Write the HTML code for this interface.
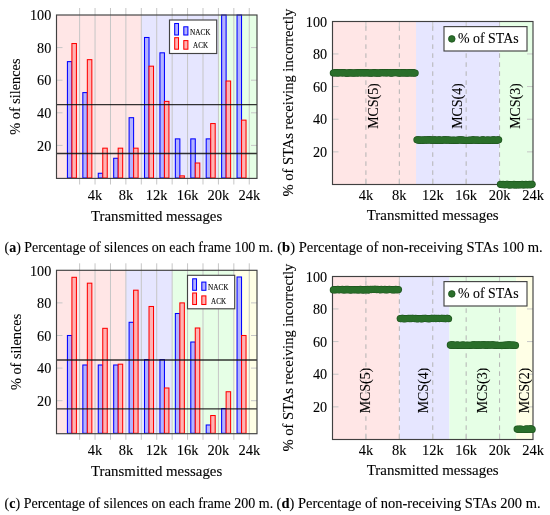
<!DOCTYPE html>
<html><head><meta charset="utf-8"><style>html,body{margin:0;padding:0;background:#fff;}svg{display:block;will-change:transform;}text{fill:#000;stroke:#000;stroke-width:0.1px;}</style></head><body>
<svg width="550" height="515" viewBox="0 0 550 515" font-family='"Liberation Serif", serif' fill="#000">
<rect width="550" height="515" fill="#fff"/>
<rect x="56.50" y="15.00" width="84.81" height="163.00" fill="#ffe6e6"/>
<rect x="141.31" y="15.00" width="77.10" height="163.00" fill="#e6e6ff"/>
<rect x="218.41" y="15.00" width="38.59" height="163.00" fill="#e6ffe6"/>
<line x1="79.63" y1="8.00" x2="79.63" y2="184.50" stroke="#c6c6c6" stroke-width="1"/>
<line x1="95.05" y1="8.00" x2="95.05" y2="184.50" stroke="#c6c6c6" stroke-width="1"/>
<line x1="110.47" y1="8.00" x2="110.47" y2="184.50" stroke="#c6c6c6" stroke-width="1"/>
<line x1="125.89" y1="8.00" x2="125.89" y2="184.50" stroke="#c6c6c6" stroke-width="1"/>
<line x1="141.31" y1="8.00" x2="141.31" y2="184.50" stroke="#c6c6c6" stroke-width="1"/>
<line x1="156.73" y1="8.00" x2="156.73" y2="184.50" stroke="#c6c6c6" stroke-width="1"/>
<line x1="172.15" y1="8.00" x2="172.15" y2="184.50" stroke="#c6c6c6" stroke-width="1"/>
<line x1="187.57" y1="8.00" x2="187.57" y2="184.50" stroke="#c6c6c6" stroke-width="1"/>
<line x1="202.99" y1="8.00" x2="202.99" y2="184.50" stroke="#c6c6c6" stroke-width="1"/>
<line x1="218.41" y1="8.00" x2="218.41" y2="184.50" stroke="#c6c6c6" stroke-width="1"/>
<line x1="233.83" y1="8.00" x2="233.83" y2="184.50" stroke="#c6c6c6" stroke-width="1"/>
<line x1="249.25" y1="8.00" x2="249.25" y2="184.50" stroke="#c6c6c6" stroke-width="1"/>
<line x1="56.50" y1="145.40" x2="62.50" y2="145.40" stroke="#c6c6c6" stroke-width="1"/>
<line x1="251.00" y1="145.40" x2="257.00" y2="145.40" stroke="#c6c6c6" stroke-width="1"/>
<line x1="56.50" y1="112.80" x2="62.50" y2="112.80" stroke="#c6c6c6" stroke-width="1"/>
<line x1="251.00" y1="112.80" x2="257.00" y2="112.80" stroke="#c6c6c6" stroke-width="1"/>
<line x1="56.50" y1="80.20" x2="62.50" y2="80.20" stroke="#c6c6c6" stroke-width="1"/>
<line x1="251.00" y1="80.20" x2="257.00" y2="80.20" stroke="#c6c6c6" stroke-width="1"/>
<line x1="56.50" y1="47.60" x2="62.50" y2="47.60" stroke="#c6c6c6" stroke-width="1"/>
<line x1="251.00" y1="47.60" x2="257.00" y2="47.60" stroke="#c6c6c6" stroke-width="1"/>
<rect x="67.42" y="61.62" width="4.50" height="116.38" fill="#b3b3ff" stroke="#0000ff" stroke-width="1.05"/>
<rect x="71.92" y="43.53" width="4.50" height="134.47" fill="#ffb3b3" stroke="#ff0000" stroke-width="1.05"/>
<rect x="82.84" y="92.59" width="4.50" height="85.41" fill="#b3b3ff" stroke="#0000ff" stroke-width="1.05"/>
<rect x="87.34" y="59.66" width="4.50" height="118.34" fill="#ffb3b3" stroke="#ff0000" stroke-width="1.05"/>
<rect x="98.26" y="173.27" width="4.50" height="4.73" fill="#b3b3ff" stroke="#0000ff" stroke-width="1.05"/>
<rect x="102.76" y="148.17" width="4.50" height="29.83" fill="#ffb3b3" stroke="#ff0000" stroke-width="1.05"/>
<rect x="113.68" y="158.28" width="4.50" height="19.72" fill="#b3b3ff" stroke="#0000ff" stroke-width="1.05"/>
<rect x="118.18" y="148.17" width="4.50" height="29.83" fill="#ffb3b3" stroke="#ff0000" stroke-width="1.05"/>
<rect x="129.10" y="117.69" width="4.50" height="60.31" fill="#b3b3ff" stroke="#0000ff" stroke-width="1.05"/>
<rect x="133.60" y="148.17" width="4.50" height="29.83" fill="#ffb3b3" stroke="#ff0000" stroke-width="1.05"/>
<rect x="144.52" y="37.49" width="4.50" height="140.51" fill="#b3b3ff" stroke="#0000ff" stroke-width="1.05"/>
<rect x="149.02" y="66.18" width="4.50" height="111.82" fill="#ffb3b3" stroke="#ff0000" stroke-width="1.05"/>
<rect x="159.94" y="52.82" width="4.50" height="125.18" fill="#b3b3ff" stroke="#0000ff" stroke-width="1.05"/>
<rect x="164.44" y="101.39" width="4.50" height="76.61" fill="#ffb3b3" stroke="#ff0000" stroke-width="1.05"/>
<rect x="175.36" y="138.88" width="4.50" height="39.12" fill="#b3b3ff" stroke="#0000ff" stroke-width="1.05"/>
<rect x="179.86" y="175.88" width="4.50" height="2.12" fill="#ffb3b3" stroke="#ff0000" stroke-width="1.05"/>
<rect x="190.78" y="138.88" width="4.50" height="39.12" fill="#b3b3ff" stroke="#0000ff" stroke-width="1.05"/>
<rect x="195.28" y="163.00" width="4.50" height="15.00" fill="#ffb3b3" stroke="#ff0000" stroke-width="1.05"/>
<rect x="206.20" y="138.88" width="4.50" height="39.12" fill="#b3b3ff" stroke="#0000ff" stroke-width="1.05"/>
<rect x="210.70" y="123.56" width="4.50" height="54.44" fill="#ffb3b3" stroke="#ff0000" stroke-width="1.05"/>
<rect x="221.62" y="15.00" width="4.50" height="163.00" fill="#b3b3ff" stroke="#0000ff" stroke-width="1.05"/>
<rect x="226.12" y="81.02" width="4.50" height="96.98" fill="#ffb3b3" stroke="#ff0000" stroke-width="1.05"/>
<rect x="237.04" y="15.00" width="4.50" height="163.00" fill="#b3b3ff" stroke="#0000ff" stroke-width="1.05"/>
<rect x="241.54" y="120.14" width="4.50" height="57.86" fill="#ffb3b3" stroke="#ff0000" stroke-width="1.05"/>
<line x1="56.50" y1="104.65" x2="257.00" y2="104.65" stroke="#111" stroke-opacity="0.85" stroke-width="1.4"/>
<line x1="56.50" y1="153.55" x2="257.00" y2="153.55" stroke="#111" stroke-opacity="0.85" stroke-width="1.4"/>
<rect x="56.50" y="15.00" width="200.50" height="163.40" fill="none" stroke="#404040" stroke-width="1.15"/>
<text x="51.30" y="150.60" font-size="14.2" text-anchor="end" >20</text>
<text x="51.30" y="118.00" font-size="14.2" text-anchor="end" >40</text>
<text x="51.30" y="85.40" font-size="14.2" text-anchor="end" >60</text>
<text x="51.30" y="52.80" font-size="14.2" text-anchor="end" >80</text>
<text x="51.30" y="20.20" font-size="14.2" text-anchor="end" >100</text>
<text x="95.05" y="199.70" font-size="14.5" text-anchor="middle" >4k</text>
<text x="125.89" y="199.70" font-size="14.5" text-anchor="middle" >8k</text>
<text x="156.73" y="199.70" font-size="14.5" text-anchor="middle" >12k</text>
<text x="187.57" y="199.70" font-size="14.5" text-anchor="middle" >16k</text>
<text x="218.41" y="199.70" font-size="14.5" text-anchor="middle" >20k</text>
<text x="249.25" y="199.70" font-size="14.5" text-anchor="middle" >24k</text>
<text x="91.00" y="220.80" font-size="15" text-anchor="start" textLength="131.20" lengthAdjust="spacingAndGlyphs" >Transmitted messages</text>
<text x="20.50" y="134.70" font-size="14.5" text-anchor="start" textLength="76.20" lengthAdjust="spacingAndGlyphs" transform="rotate(-90 20.50 134.70)" >% of silences</text>
<rect x="169.5" y="20.0" width="47.20" height="33.50" fill="#fff" stroke="#444" stroke-width="1.15"/>
<rect x="174.7" y="23.5" width="3.8" height="11.5" fill="#b3b3ff" stroke="#0000ff" stroke-width="1.05"/>
<rect x="183.8" y="26.8" width="4.1" height="8.2" fill="#b3b3ff" stroke="#0000ff" stroke-width="1.05"/>
<rect x="174.7" y="37.7" width="3.8" height="11.5" fill="#ffb3b3" stroke="#ff0000" stroke-width="1.05"/>
<rect x="183.8" y="40.6" width="4.1" height="8.6" fill="#ffb3b3" stroke="#ff0000" stroke-width="1.05"/>
<text x="190.00" y="34.60" font-size="7.4" text-anchor="start" textLength="20.40" lengthAdjust="spacingAndGlyphs" >NACK</text>
<text x="193.10" y="48.40" font-size="7.4" text-anchor="start" textLength="14.90" lengthAdjust="spacingAndGlyphs" >ACK</text>
<rect x="332.50" y="21.50" width="83.54" height="163.00" fill="#ffe6e6"/>
<rect x="416.04" y="21.50" width="83.54" height="163.00" fill="#e6e6ff"/>
<rect x="499.58" y="21.50" width="33.42" height="163.00" fill="#e6ffe6"/>
<line x1="365.92" y1="21.50" x2="365.92" y2="184.50" stroke="#b4b4b4" stroke-width="1" stroke-dasharray="4.6 4.4" stroke-dashoffset="4.2"/>
<line x1="399.33" y1="21.50" x2="399.33" y2="184.50" stroke="#b4b4b4" stroke-width="1" stroke-dasharray="4.6 4.4" stroke-dashoffset="4.2"/>
<line x1="432.75" y1="21.50" x2="432.75" y2="184.50" stroke="#b4b4b4" stroke-width="1" stroke-dasharray="4.6 4.4" stroke-dashoffset="4.2"/>
<line x1="466.16" y1="21.50" x2="466.16" y2="184.50" stroke="#b4b4b4" stroke-width="1" stroke-dasharray="4.6 4.4" stroke-dashoffset="4.2"/>
<line x1="499.58" y1="21.50" x2="499.58" y2="184.50" stroke="#b4b4b4" stroke-width="1" stroke-dasharray="4.6 4.4" stroke-dashoffset="4.2"/>
<line x1="365.92" y1="21.50" x2="365.92" y2="27.50" stroke="#c6c6c6" stroke-width="1"/>
<line x1="365.92" y1="178.50" x2="365.92" y2="184.50" stroke="#c6c6c6" stroke-width="1"/>
<line x1="399.33" y1="21.50" x2="399.33" y2="27.50" stroke="#c6c6c6" stroke-width="1"/>
<line x1="399.33" y1="178.50" x2="399.33" y2="184.50" stroke="#c6c6c6" stroke-width="1"/>
<line x1="432.75" y1="21.50" x2="432.75" y2="27.50" stroke="#c6c6c6" stroke-width="1"/>
<line x1="432.75" y1="178.50" x2="432.75" y2="184.50" stroke="#c6c6c6" stroke-width="1"/>
<line x1="466.16" y1="21.50" x2="466.16" y2="27.50" stroke="#c6c6c6" stroke-width="1"/>
<line x1="466.16" y1="178.50" x2="466.16" y2="184.50" stroke="#c6c6c6" stroke-width="1"/>
<line x1="499.58" y1="21.50" x2="499.58" y2="27.50" stroke="#c6c6c6" stroke-width="1"/>
<line x1="499.58" y1="178.50" x2="499.58" y2="184.50" stroke="#c6c6c6" stroke-width="1"/>
<line x1="332.50" y1="151.86" x2="338.50" y2="151.86" stroke="#c6c6c6" stroke-width="1"/>
<line x1="527.00" y1="151.86" x2="533.00" y2="151.86" stroke="#c6c6c6" stroke-width="1"/>
<line x1="332.50" y1="119.22" x2="338.50" y2="119.22" stroke="#c6c6c6" stroke-width="1"/>
<line x1="527.00" y1="119.22" x2="533.00" y2="119.22" stroke="#c6c6c6" stroke-width="1"/>
<line x1="332.50" y1="86.58" x2="338.50" y2="86.58" stroke="#c6c6c6" stroke-width="1"/>
<line x1="527.00" y1="86.58" x2="533.00" y2="86.58" stroke="#c6c6c6" stroke-width="1"/>
<line x1="332.50" y1="53.94" x2="338.50" y2="53.94" stroke="#c6c6c6" stroke-width="1"/>
<line x1="527.00" y1="53.94" x2="533.00" y2="53.94" stroke="#c6c6c6" stroke-width="1"/>
<text x="378.27" y="106.00" font-size="14.5" text-anchor="middle" textLength="45.50" lengthAdjust="spacingAndGlyphs" transform="rotate(-90 378.27 106.00)" >MCS(5)</text>
<text x="461.81" y="106.00" font-size="14.5" text-anchor="middle" textLength="45.50" lengthAdjust="spacingAndGlyphs" transform="rotate(-90 461.81 106.00)" >MCS(4)</text>
<text x="520.29" y="106.00" font-size="14.5" text-anchor="middle" textLength="45.50" lengthAdjust="spacingAndGlyphs" transform="rotate(-90 520.29 106.00)" >MCS(3)</text>
<rect x="332.50" y="21.50" width="200.50" height="163.00" fill="none" stroke="#404040" stroke-width="1.15"/>
<g fill="#1f561f"><circle cx="333.3" cy="73.0" r="3.55"/><circle cx="334.2" cy="72.7" r="3.55"/><circle cx="335.2" cy="73.0" r="3.55"/><circle cx="336.1" cy="72.6" r="3.55"/><circle cx="337.0" cy="72.9" r="3.55"/><circle cx="337.9" cy="72.9" r="3.55"/><circle cx="338.8" cy="73.0" r="3.55"/><circle cx="339.7" cy="72.8" r="3.55"/><circle cx="340.6" cy="72.7" r="3.55"/><circle cx="341.5" cy="72.8" r="3.55"/><circle cx="342.4" cy="73.1" r="3.55"/><circle cx="343.3" cy="72.6" r="3.55"/><circle cx="344.3" cy="72.7" r="3.55"/><circle cx="345.2" cy="73.0" r="3.55"/><circle cx="346.1" cy="73.1" r="3.55"/><circle cx="347.0" cy="73.3" r="3.55"/><circle cx="347.9" cy="73.1" r="3.55"/><circle cx="348.8" cy="72.8" r="3.55"/><circle cx="349.7" cy="72.9" r="3.55"/><circle cx="350.6" cy="73.0" r="3.55"/><circle cx="351.5" cy="72.7" r="3.55"/><circle cx="352.4" cy="73.0" r="3.55"/><circle cx="353.3" cy="73.0" r="3.55"/><circle cx="354.3" cy="73.3" r="3.55"/><circle cx="355.2" cy="72.7" r="3.55"/><circle cx="356.1" cy="72.8" r="3.55"/><circle cx="357.0" cy="73.0" r="3.55"/><circle cx="357.9" cy="73.1" r="3.55"/><circle cx="358.8" cy="72.6" r="3.55"/><circle cx="359.7" cy="72.5" r="3.55"/><circle cx="360.6" cy="73.1" r="3.55"/><circle cx="361.5" cy="72.5" r="3.55"/><circle cx="362.4" cy="72.9" r="3.55"/><circle cx="363.4" cy="72.7" r="3.55"/><circle cx="364.3" cy="72.9" r="3.55"/><circle cx="365.2" cy="72.9" r="3.55"/><circle cx="366.1" cy="72.8" r="3.55"/><circle cx="367.0" cy="72.6" r="3.55"/><circle cx="367.9" cy="73.0" r="3.55"/><circle cx="368.8" cy="73.0" r="3.55"/><circle cx="369.7" cy="72.7" r="3.55"/><circle cx="370.6" cy="73.2" r="3.55"/><circle cx="371.5" cy="73.1" r="3.55"/><circle cx="372.5" cy="72.8" r="3.55"/><circle cx="373.4" cy="73.0" r="3.55"/><circle cx="374.3" cy="72.6" r="3.55"/><circle cx="375.2" cy="73.0" r="3.55"/><circle cx="376.1" cy="72.9" r="3.55"/><circle cx="377.0" cy="73.0" r="3.55"/><circle cx="377.9" cy="73.2" r="3.55"/><circle cx="378.8" cy="72.8" r="3.55"/><circle cx="379.7" cy="73.1" r="3.55"/><circle cx="380.6" cy="73.0" r="3.55"/><circle cx="381.5" cy="72.5" r="3.55"/><circle cx="382.5" cy="72.8" r="3.55"/><circle cx="383.4" cy="72.6" r="3.55"/><circle cx="384.3" cy="72.9" r="3.55"/><circle cx="385.2" cy="72.8" r="3.55"/><circle cx="386.1" cy="72.6" r="3.55"/><circle cx="387.0" cy="73.1" r="3.55"/><circle cx="387.9" cy="72.5" r="3.55"/><circle cx="388.8" cy="72.5" r="3.55"/><circle cx="389.7" cy="72.6" r="3.55"/><circle cx="390.6" cy="73.2" r="3.55"/><circle cx="391.6" cy="72.9" r="3.55"/><circle cx="392.5" cy="72.9" r="3.55"/><circle cx="393.4" cy="72.8" r="3.55"/><circle cx="394.3" cy="72.6" r="3.55"/><circle cx="395.2" cy="72.8" r="3.55"/><circle cx="396.1" cy="72.7" r="3.55"/><circle cx="397.0" cy="72.8" r="3.55"/><circle cx="397.9" cy="72.6" r="3.55"/><circle cx="398.8" cy="73.2" r="3.55"/><circle cx="399.7" cy="73.1" r="3.55"/><circle cx="400.7" cy="72.8" r="3.55"/><circle cx="401.6" cy="72.9" r="3.55"/><circle cx="402.5" cy="72.5" r="3.55"/><circle cx="403.4" cy="73.2" r="3.55"/><circle cx="404.3" cy="72.6" r="3.55"/><circle cx="405.2" cy="72.8" r="3.55"/><circle cx="406.1" cy="73.1" r="3.55"/><circle cx="407.0" cy="73.0" r="3.55"/><circle cx="407.9" cy="73.1" r="3.55"/><circle cx="408.8" cy="72.6" r="3.55"/><circle cx="409.7" cy="73.0" r="3.55"/><circle cx="410.7" cy="72.5" r="3.55"/><circle cx="411.6" cy="73.3" r="3.55"/><circle cx="412.5" cy="72.5" r="3.55"/><circle cx="413.4" cy="72.6" r="3.55"/><circle cx="414.3" cy="73.3" r="3.55"/><circle cx="415.2" cy="73.0" r="3.55"/></g>
<g fill="#2b6f2b"><circle cx="333.3" cy="73.0" r="2.8"/><circle cx="334.2" cy="72.7" r="2.8"/><circle cx="335.2" cy="73.0" r="2.8"/><circle cx="336.1" cy="72.6" r="2.8"/><circle cx="337.0" cy="72.9" r="2.8"/><circle cx="337.9" cy="72.9" r="2.8"/><circle cx="338.8" cy="73.0" r="2.8"/><circle cx="339.7" cy="72.8" r="2.8"/><circle cx="340.6" cy="72.7" r="2.8"/><circle cx="341.5" cy="72.8" r="2.8"/><circle cx="342.4" cy="73.1" r="2.8"/><circle cx="343.3" cy="72.6" r="2.8"/><circle cx="344.3" cy="72.7" r="2.8"/><circle cx="345.2" cy="73.0" r="2.8"/><circle cx="346.1" cy="73.1" r="2.8"/><circle cx="347.0" cy="73.3" r="2.8"/><circle cx="347.9" cy="73.1" r="2.8"/><circle cx="348.8" cy="72.8" r="2.8"/><circle cx="349.7" cy="72.9" r="2.8"/><circle cx="350.6" cy="73.0" r="2.8"/><circle cx="351.5" cy="72.7" r="2.8"/><circle cx="352.4" cy="73.0" r="2.8"/><circle cx="353.3" cy="73.0" r="2.8"/><circle cx="354.3" cy="73.3" r="2.8"/><circle cx="355.2" cy="72.7" r="2.8"/><circle cx="356.1" cy="72.8" r="2.8"/><circle cx="357.0" cy="73.0" r="2.8"/><circle cx="357.9" cy="73.1" r="2.8"/><circle cx="358.8" cy="72.6" r="2.8"/><circle cx="359.7" cy="72.5" r="2.8"/><circle cx="360.6" cy="73.1" r="2.8"/><circle cx="361.5" cy="72.5" r="2.8"/><circle cx="362.4" cy="72.9" r="2.8"/><circle cx="363.4" cy="72.7" r="2.8"/><circle cx="364.3" cy="72.9" r="2.8"/><circle cx="365.2" cy="72.9" r="2.8"/><circle cx="366.1" cy="72.8" r="2.8"/><circle cx="367.0" cy="72.6" r="2.8"/><circle cx="367.9" cy="73.0" r="2.8"/><circle cx="368.8" cy="73.0" r="2.8"/><circle cx="369.7" cy="72.7" r="2.8"/><circle cx="370.6" cy="73.2" r="2.8"/><circle cx="371.5" cy="73.1" r="2.8"/><circle cx="372.5" cy="72.8" r="2.8"/><circle cx="373.4" cy="73.0" r="2.8"/><circle cx="374.3" cy="72.6" r="2.8"/><circle cx="375.2" cy="73.0" r="2.8"/><circle cx="376.1" cy="72.9" r="2.8"/><circle cx="377.0" cy="73.0" r="2.8"/><circle cx="377.9" cy="73.2" r="2.8"/><circle cx="378.8" cy="72.8" r="2.8"/><circle cx="379.7" cy="73.1" r="2.8"/><circle cx="380.6" cy="73.0" r="2.8"/><circle cx="381.5" cy="72.5" r="2.8"/><circle cx="382.5" cy="72.8" r="2.8"/><circle cx="383.4" cy="72.6" r="2.8"/><circle cx="384.3" cy="72.9" r="2.8"/><circle cx="385.2" cy="72.8" r="2.8"/><circle cx="386.1" cy="72.6" r="2.8"/><circle cx="387.0" cy="73.1" r="2.8"/><circle cx="387.9" cy="72.5" r="2.8"/><circle cx="388.8" cy="72.5" r="2.8"/><circle cx="389.7" cy="72.6" r="2.8"/><circle cx="390.6" cy="73.2" r="2.8"/><circle cx="391.6" cy="72.9" r="2.8"/><circle cx="392.5" cy="72.9" r="2.8"/><circle cx="393.4" cy="72.8" r="2.8"/><circle cx="394.3" cy="72.6" r="2.8"/><circle cx="395.2" cy="72.8" r="2.8"/><circle cx="396.1" cy="72.7" r="2.8"/><circle cx="397.0" cy="72.8" r="2.8"/><circle cx="397.9" cy="72.6" r="2.8"/><circle cx="398.8" cy="73.2" r="2.8"/><circle cx="399.7" cy="73.1" r="2.8"/><circle cx="400.7" cy="72.8" r="2.8"/><circle cx="401.6" cy="72.9" r="2.8"/><circle cx="402.5" cy="72.5" r="2.8"/><circle cx="403.4" cy="73.2" r="2.8"/><circle cx="404.3" cy="72.6" r="2.8"/><circle cx="405.2" cy="72.8" r="2.8"/><circle cx="406.1" cy="73.1" r="2.8"/><circle cx="407.0" cy="73.0" r="2.8"/><circle cx="407.9" cy="73.1" r="2.8"/><circle cx="408.8" cy="72.6" r="2.8"/><circle cx="409.7" cy="73.0" r="2.8"/><circle cx="410.7" cy="72.5" r="2.8"/><circle cx="411.6" cy="73.3" r="2.8"/><circle cx="412.5" cy="72.5" r="2.8"/><circle cx="413.4" cy="72.6" r="2.8"/><circle cx="414.3" cy="73.3" r="2.8"/><circle cx="415.2" cy="73.0" r="2.8"/></g>
<g fill="#1f561f"><circle cx="416.9" cy="139.7" r="3.55"/><circle cx="417.8" cy="139.9" r="3.55"/><circle cx="418.7" cy="140.2" r="3.55"/><circle cx="419.6" cy="139.8" r="3.55"/><circle cx="420.5" cy="140.4" r="3.55"/><circle cx="421.4" cy="140.1" r="3.55"/><circle cx="422.3" cy="140.4" r="3.55"/><circle cx="423.2" cy="140.1" r="3.55"/><circle cx="424.2" cy="139.8" r="3.55"/><circle cx="425.1" cy="140.3" r="3.55"/><circle cx="426.0" cy="139.7" r="3.55"/><circle cx="426.9" cy="140.3" r="3.55"/><circle cx="427.8" cy="139.9" r="3.55"/><circle cx="428.7" cy="139.8" r="3.55"/><circle cx="429.6" cy="139.9" r="3.55"/><circle cx="430.5" cy="140.1" r="3.55"/><circle cx="431.4" cy="139.9" r="3.55"/><circle cx="432.3" cy="140.3" r="3.55"/><circle cx="433.2" cy="140.3" r="3.55"/><circle cx="434.2" cy="139.9" r="3.55"/><circle cx="435.1" cy="139.9" r="3.55"/><circle cx="436.0" cy="140.2" r="3.55"/><circle cx="436.9" cy="140.2" r="3.55"/><circle cx="437.8" cy="140.4" r="3.55"/><circle cx="438.7" cy="139.9" r="3.55"/><circle cx="439.6" cy="139.8" r="3.55"/><circle cx="440.5" cy="140.2" r="3.55"/><circle cx="441.4" cy="140.5" r="3.55"/><circle cx="442.3" cy="140.1" r="3.55"/><circle cx="443.3" cy="140.0" r="3.55"/><circle cx="444.2" cy="139.8" r="3.55"/><circle cx="445.1" cy="139.9" r="3.55"/><circle cx="446.0" cy="140.3" r="3.55"/><circle cx="446.9" cy="139.9" r="3.55"/><circle cx="447.8" cy="140.0" r="3.55"/><circle cx="448.7" cy="140.0" r="3.55"/><circle cx="449.6" cy="140.0" r="3.55"/><circle cx="450.5" cy="140.3" r="3.55"/><circle cx="451.4" cy="140.4" r="3.55"/><circle cx="452.4" cy="140.2" r="3.55"/><circle cx="453.3" cy="140.1" r="3.55"/><circle cx="454.2" cy="140.2" r="3.55"/><circle cx="455.1" cy="140.2" r="3.55"/><circle cx="456.0" cy="140.3" r="3.55"/><circle cx="456.9" cy="140.4" r="3.55"/><circle cx="457.8" cy="140.0" r="3.55"/><circle cx="458.7" cy="140.0" r="3.55"/><circle cx="459.6" cy="139.7" r="3.55"/><circle cx="460.5" cy="140.1" r="3.55"/><circle cx="461.4" cy="140.1" r="3.55"/><circle cx="462.4" cy="139.8" r="3.55"/><circle cx="463.3" cy="140.2" r="3.55"/><circle cx="464.2" cy="140.4" r="3.55"/><circle cx="465.1" cy="140.3" r="3.55"/><circle cx="466.0" cy="140.5" r="3.55"/><circle cx="466.9" cy="140.4" r="3.55"/><circle cx="467.8" cy="140.5" r="3.55"/><circle cx="468.7" cy="140.2" r="3.55"/><circle cx="469.6" cy="140.1" r="3.55"/><circle cx="470.5" cy="140.2" r="3.55"/><circle cx="471.5" cy="140.5" r="3.55"/><circle cx="472.4" cy="139.8" r="3.55"/><circle cx="473.3" cy="139.7" r="3.55"/><circle cx="474.2" cy="140.0" r="3.55"/><circle cx="475.1" cy="140.2" r="3.55"/><circle cx="476.0" cy="140.2" r="3.55"/><circle cx="476.9" cy="139.8" r="3.55"/><circle cx="477.8" cy="140.2" r="3.55"/><circle cx="478.7" cy="140.2" r="3.55"/><circle cx="479.6" cy="140.3" r="3.55"/><circle cx="480.6" cy="140.4" r="3.55"/><circle cx="481.5" cy="140.4" r="3.55"/><circle cx="482.4" cy="139.9" r="3.55"/><circle cx="483.3" cy="139.8" r="3.55"/><circle cx="484.2" cy="140.3" r="3.55"/><circle cx="485.1" cy="140.4" r="3.55"/><circle cx="486.0" cy="140.2" r="3.55"/><circle cx="486.9" cy="140.4" r="3.55"/><circle cx="487.8" cy="139.7" r="3.55"/><circle cx="488.7" cy="140.3" r="3.55"/><circle cx="489.6" cy="140.2" r="3.55"/><circle cx="490.6" cy="140.4" r="3.55"/><circle cx="491.5" cy="140.0" r="3.55"/><circle cx="492.4" cy="140.4" r="3.55"/><circle cx="493.3" cy="139.9" r="3.55"/><circle cx="494.2" cy="139.7" r="3.55"/><circle cx="495.1" cy="140.4" r="3.55"/><circle cx="496.0" cy="140.3" r="3.55"/><circle cx="496.9" cy="140.4" r="3.55"/><circle cx="497.8" cy="139.8" r="3.55"/><circle cx="498.7" cy="139.8" r="3.55"/></g>
<g fill="#2b6f2b"><circle cx="416.9" cy="139.7" r="2.8"/><circle cx="417.8" cy="139.9" r="2.8"/><circle cx="418.7" cy="140.2" r="2.8"/><circle cx="419.6" cy="139.8" r="2.8"/><circle cx="420.5" cy="140.4" r="2.8"/><circle cx="421.4" cy="140.1" r="2.8"/><circle cx="422.3" cy="140.4" r="2.8"/><circle cx="423.2" cy="140.1" r="2.8"/><circle cx="424.2" cy="139.8" r="2.8"/><circle cx="425.1" cy="140.3" r="2.8"/><circle cx="426.0" cy="139.7" r="2.8"/><circle cx="426.9" cy="140.3" r="2.8"/><circle cx="427.8" cy="139.9" r="2.8"/><circle cx="428.7" cy="139.8" r="2.8"/><circle cx="429.6" cy="139.9" r="2.8"/><circle cx="430.5" cy="140.1" r="2.8"/><circle cx="431.4" cy="139.9" r="2.8"/><circle cx="432.3" cy="140.3" r="2.8"/><circle cx="433.2" cy="140.3" r="2.8"/><circle cx="434.2" cy="139.9" r="2.8"/><circle cx="435.1" cy="139.9" r="2.8"/><circle cx="436.0" cy="140.2" r="2.8"/><circle cx="436.9" cy="140.2" r="2.8"/><circle cx="437.8" cy="140.4" r="2.8"/><circle cx="438.7" cy="139.9" r="2.8"/><circle cx="439.6" cy="139.8" r="2.8"/><circle cx="440.5" cy="140.2" r="2.8"/><circle cx="441.4" cy="140.5" r="2.8"/><circle cx="442.3" cy="140.1" r="2.8"/><circle cx="443.3" cy="140.0" r="2.8"/><circle cx="444.2" cy="139.8" r="2.8"/><circle cx="445.1" cy="139.9" r="2.8"/><circle cx="446.0" cy="140.3" r="2.8"/><circle cx="446.9" cy="139.9" r="2.8"/><circle cx="447.8" cy="140.0" r="2.8"/><circle cx="448.7" cy="140.0" r="2.8"/><circle cx="449.6" cy="140.0" r="2.8"/><circle cx="450.5" cy="140.3" r="2.8"/><circle cx="451.4" cy="140.4" r="2.8"/><circle cx="452.4" cy="140.2" r="2.8"/><circle cx="453.3" cy="140.1" r="2.8"/><circle cx="454.2" cy="140.2" r="2.8"/><circle cx="455.1" cy="140.2" r="2.8"/><circle cx="456.0" cy="140.3" r="2.8"/><circle cx="456.9" cy="140.4" r="2.8"/><circle cx="457.8" cy="140.0" r="2.8"/><circle cx="458.7" cy="140.0" r="2.8"/><circle cx="459.6" cy="139.7" r="2.8"/><circle cx="460.5" cy="140.1" r="2.8"/><circle cx="461.4" cy="140.1" r="2.8"/><circle cx="462.4" cy="139.8" r="2.8"/><circle cx="463.3" cy="140.2" r="2.8"/><circle cx="464.2" cy="140.4" r="2.8"/><circle cx="465.1" cy="140.3" r="2.8"/><circle cx="466.0" cy="140.5" r="2.8"/><circle cx="466.9" cy="140.4" r="2.8"/><circle cx="467.8" cy="140.5" r="2.8"/><circle cx="468.7" cy="140.2" r="2.8"/><circle cx="469.6" cy="140.1" r="2.8"/><circle cx="470.5" cy="140.2" r="2.8"/><circle cx="471.5" cy="140.5" r="2.8"/><circle cx="472.4" cy="139.8" r="2.8"/><circle cx="473.3" cy="139.7" r="2.8"/><circle cx="474.2" cy="140.0" r="2.8"/><circle cx="475.1" cy="140.2" r="2.8"/><circle cx="476.0" cy="140.2" r="2.8"/><circle cx="476.9" cy="139.8" r="2.8"/><circle cx="477.8" cy="140.2" r="2.8"/><circle cx="478.7" cy="140.2" r="2.8"/><circle cx="479.6" cy="140.3" r="2.8"/><circle cx="480.6" cy="140.4" r="2.8"/><circle cx="481.5" cy="140.4" r="2.8"/><circle cx="482.4" cy="139.9" r="2.8"/><circle cx="483.3" cy="139.8" r="2.8"/><circle cx="484.2" cy="140.3" r="2.8"/><circle cx="485.1" cy="140.4" r="2.8"/><circle cx="486.0" cy="140.2" r="2.8"/><circle cx="486.9" cy="140.4" r="2.8"/><circle cx="487.8" cy="139.7" r="2.8"/><circle cx="488.7" cy="140.3" r="2.8"/><circle cx="489.6" cy="140.2" r="2.8"/><circle cx="490.6" cy="140.4" r="2.8"/><circle cx="491.5" cy="140.0" r="2.8"/><circle cx="492.4" cy="140.4" r="2.8"/><circle cx="493.3" cy="139.9" r="2.8"/><circle cx="494.2" cy="139.7" r="2.8"/><circle cx="495.1" cy="140.4" r="2.8"/><circle cx="496.0" cy="140.3" r="2.8"/><circle cx="496.9" cy="140.4" r="2.8"/><circle cx="497.8" cy="139.8" r="2.8"/><circle cx="498.7" cy="139.8" r="2.8"/></g>
<g fill="#1f561f"><circle cx="500.4" cy="184.3" r="3.55"/><circle cx="501.3" cy="184.5" r="3.55"/><circle cx="502.2" cy="184.8" r="3.55"/><circle cx="503.1" cy="184.3" r="3.55"/><circle cx="504.0" cy="184.6" r="3.55"/><circle cx="505.0" cy="185.0" r="3.55"/><circle cx="505.9" cy="184.5" r="3.55"/><circle cx="506.8" cy="184.3" r="3.55"/><circle cx="507.7" cy="184.4" r="3.55"/><circle cx="508.6" cy="184.9" r="3.55"/><circle cx="509.5" cy="185.0" r="3.55"/><circle cx="510.4" cy="184.9" r="3.55"/><circle cx="511.3" cy="184.6" r="3.55"/><circle cx="512.2" cy="184.5" r="3.55"/><circle cx="513.1" cy="184.9" r="3.55"/><circle cx="514.0" cy="184.4" r="3.55"/><circle cx="514.9" cy="184.9" r="3.55"/><circle cx="515.8" cy="185.0" r="3.55"/><circle cx="516.7" cy="184.6" r="3.55"/><circle cx="517.6" cy="184.9" r="3.55"/><circle cx="518.6" cy="184.6" r="3.55"/><circle cx="519.5" cy="184.9" r="3.55"/><circle cx="520.4" cy="184.8" r="3.55"/><circle cx="521.3" cy="184.6" r="3.55"/><circle cx="522.2" cy="184.3" r="3.55"/><circle cx="523.1" cy="185.0" r="3.55"/><circle cx="524.0" cy="184.9" r="3.55"/><circle cx="524.9" cy="184.5" r="3.55"/><circle cx="525.8" cy="184.4" r="3.55"/><circle cx="526.7" cy="184.9" r="3.55"/><circle cx="527.6" cy="184.6" r="3.55"/><circle cx="528.5" cy="184.8" r="3.55"/><circle cx="529.4" cy="184.4" r="3.55"/><circle cx="530.3" cy="185.0" r="3.55"/><circle cx="531.3" cy="184.4" r="3.55"/><circle cx="532.2" cy="184.3" r="3.55"/></g>
<g fill="#2b6f2b"><circle cx="500.4" cy="184.3" r="2.8"/><circle cx="501.3" cy="184.5" r="2.8"/><circle cx="502.2" cy="184.8" r="2.8"/><circle cx="503.1" cy="184.3" r="2.8"/><circle cx="504.0" cy="184.6" r="2.8"/><circle cx="505.0" cy="185.0" r="2.8"/><circle cx="505.9" cy="184.5" r="2.8"/><circle cx="506.8" cy="184.3" r="2.8"/><circle cx="507.7" cy="184.4" r="2.8"/><circle cx="508.6" cy="184.9" r="2.8"/><circle cx="509.5" cy="185.0" r="2.8"/><circle cx="510.4" cy="184.9" r="2.8"/><circle cx="511.3" cy="184.6" r="2.8"/><circle cx="512.2" cy="184.5" r="2.8"/><circle cx="513.1" cy="184.9" r="2.8"/><circle cx="514.0" cy="184.4" r="2.8"/><circle cx="514.9" cy="184.9" r="2.8"/><circle cx="515.8" cy="185.0" r="2.8"/><circle cx="516.7" cy="184.6" r="2.8"/><circle cx="517.6" cy="184.9" r="2.8"/><circle cx="518.6" cy="184.6" r="2.8"/><circle cx="519.5" cy="184.9" r="2.8"/><circle cx="520.4" cy="184.8" r="2.8"/><circle cx="521.3" cy="184.6" r="2.8"/><circle cx="522.2" cy="184.3" r="2.8"/><circle cx="523.1" cy="185.0" r="2.8"/><circle cx="524.0" cy="184.9" r="2.8"/><circle cx="524.9" cy="184.5" r="2.8"/><circle cx="525.8" cy="184.4" r="2.8"/><circle cx="526.7" cy="184.9" r="2.8"/><circle cx="527.6" cy="184.6" r="2.8"/><circle cx="528.5" cy="184.8" r="2.8"/><circle cx="529.4" cy="184.4" r="2.8"/><circle cx="530.3" cy="185.0" r="2.8"/><circle cx="531.3" cy="184.4" r="2.8"/><circle cx="532.2" cy="184.3" r="2.8"/></g>
<text x="327.10" y="157.06" font-size="14.2" text-anchor="end" >20</text>
<text x="327.10" y="124.42" font-size="14.2" text-anchor="end" >40</text>
<text x="327.10" y="91.78" font-size="14.2" text-anchor="end" >60</text>
<text x="327.10" y="59.14" font-size="14.2" text-anchor="end" >80</text>
<text x="327.10" y="26.50" font-size="14.2" text-anchor="end" >100</text>
<text x="365.92" y="200.40" font-size="14.5" text-anchor="middle" >4k</text>
<text x="399.33" y="200.40" font-size="14.5" text-anchor="middle" >8k</text>
<text x="432.75" y="200.40" font-size="14.5" text-anchor="middle" >12k</text>
<text x="466.16" y="200.40" font-size="14.5" text-anchor="middle" >16k</text>
<text x="499.58" y="200.40" font-size="14.5" text-anchor="middle" >20k</text>
<text x="533.00" y="200.40" font-size="14.5" text-anchor="middle" >24k</text>
<text x="366.70" y="220.30" font-size="15" text-anchor="start" textLength="132.00" lengthAdjust="spacingAndGlyphs" >Transmitted messages</text>
<text x="293.00" y="196.60" font-size="14.5" text-anchor="start" textLength="188.00" lengthAdjust="spacingAndGlyphs" transform="rotate(-90 293.00 196.60)" >% of STAs receiving incorrectly</text>
<rect x="444.0" y="26.6" width="83.00" height="24.40" fill="#fff" stroke="#444" stroke-width="1.15"/>
<circle cx="451.8" cy="38.9" r="3.3" fill="#2b6f2b" stroke="#1d521d" stroke-width="0.8"/>
<text x="458.00" y="43.00" font-size="14.8" text-anchor="start" textLength="60.60" lengthAdjust="spacingAndGlyphs" >% of STAs</text>
<rect x="56.50" y="270.30" width="69.39" height="163.00" fill="#ffe6e6"/>
<rect x="125.89" y="270.30" width="46.26" height="163.00" fill="#e6e6ff"/>
<rect x="172.15" y="270.30" width="61.68" height="163.00" fill="#e6ffe6"/>
<rect x="233.83" y="270.30" width="23.17" height="163.00" fill="#ffffe6"/>
<line x1="79.63" y1="263.30" x2="79.63" y2="439.80" stroke="#c6c6c6" stroke-width="1"/>
<line x1="95.05" y1="263.30" x2="95.05" y2="439.80" stroke="#c6c6c6" stroke-width="1"/>
<line x1="110.47" y1="263.30" x2="110.47" y2="439.80" stroke="#c6c6c6" stroke-width="1"/>
<line x1="125.89" y1="263.30" x2="125.89" y2="439.80" stroke="#c6c6c6" stroke-width="1"/>
<line x1="141.31" y1="263.30" x2="141.31" y2="439.80" stroke="#c6c6c6" stroke-width="1"/>
<line x1="156.73" y1="263.30" x2="156.73" y2="439.80" stroke="#c6c6c6" stroke-width="1"/>
<line x1="172.15" y1="263.30" x2="172.15" y2="439.80" stroke="#c6c6c6" stroke-width="1"/>
<line x1="187.57" y1="263.30" x2="187.57" y2="439.80" stroke="#c6c6c6" stroke-width="1"/>
<line x1="202.99" y1="263.30" x2="202.99" y2="439.80" stroke="#c6c6c6" stroke-width="1"/>
<line x1="218.41" y1="263.30" x2="218.41" y2="439.80" stroke="#c6c6c6" stroke-width="1"/>
<line x1="233.83" y1="263.30" x2="233.83" y2="439.80" stroke="#c6c6c6" stroke-width="1"/>
<line x1="249.25" y1="263.30" x2="249.25" y2="439.80" stroke="#c6c6c6" stroke-width="1"/>
<line x1="56.50" y1="400.70" x2="62.50" y2="400.70" stroke="#c6c6c6" stroke-width="1"/>
<line x1="251.00" y1="400.70" x2="257.00" y2="400.70" stroke="#c6c6c6" stroke-width="1"/>
<line x1="56.50" y1="368.10" x2="62.50" y2="368.10" stroke="#c6c6c6" stroke-width="1"/>
<line x1="251.00" y1="368.10" x2="257.00" y2="368.10" stroke="#c6c6c6" stroke-width="1"/>
<line x1="56.50" y1="335.50" x2="62.50" y2="335.50" stroke="#c6c6c6" stroke-width="1"/>
<line x1="251.00" y1="335.50" x2="257.00" y2="335.50" stroke="#c6c6c6" stroke-width="1"/>
<line x1="56.50" y1="302.90" x2="62.50" y2="302.90" stroke="#c6c6c6" stroke-width="1"/>
<line x1="251.00" y1="302.90" x2="257.00" y2="302.90" stroke="#c6c6c6" stroke-width="1"/>
<rect x="67.42" y="335.50" width="4.50" height="97.80" fill="#b3b3ff" stroke="#0000ff" stroke-width="1.05"/>
<rect x="71.92" y="277.31" width="4.50" height="155.99" fill="#ffb3b3" stroke="#ff0000" stroke-width="1.05"/>
<rect x="82.84" y="365.00" width="4.50" height="68.30" fill="#b3b3ff" stroke="#0000ff" stroke-width="1.05"/>
<rect x="87.34" y="283.18" width="4.50" height="150.12" fill="#ffb3b3" stroke="#ff0000" stroke-width="1.05"/>
<rect x="98.26" y="365.00" width="4.50" height="68.30" fill="#b3b3ff" stroke="#0000ff" stroke-width="1.05"/>
<rect x="102.76" y="328.33" width="4.50" height="104.97" fill="#ffb3b3" stroke="#ff0000" stroke-width="1.05"/>
<rect x="113.68" y="365.00" width="4.50" height="68.30" fill="#b3b3ff" stroke="#0000ff" stroke-width="1.05"/>
<rect x="118.18" y="364.19" width="4.50" height="69.11" fill="#ffb3b3" stroke="#ff0000" stroke-width="1.05"/>
<rect x="129.10" y="322.30" width="4.50" height="111.00" fill="#b3b3ff" stroke="#0000ff" stroke-width="1.05"/>
<rect x="133.60" y="290.19" width="4.50" height="143.11" fill="#ffb3b3" stroke="#ff0000" stroke-width="1.05"/>
<rect x="144.52" y="359.62" width="4.50" height="73.68" fill="#b3b3ff" stroke="#0000ff" stroke-width="1.05"/>
<rect x="149.02" y="306.49" width="4.50" height="126.81" fill="#ffb3b3" stroke="#ff0000" stroke-width="1.05"/>
<rect x="159.94" y="359.62" width="4.50" height="73.68" fill="#b3b3ff" stroke="#0000ff" stroke-width="1.05"/>
<rect x="164.44" y="387.99" width="4.50" height="45.31" fill="#ffb3b3" stroke="#ff0000" stroke-width="1.05"/>
<rect x="175.36" y="313.50" width="4.50" height="119.81" fill="#b3b3ff" stroke="#0000ff" stroke-width="1.05"/>
<rect x="179.86" y="302.90" width="4.50" height="130.40" fill="#ffb3b3" stroke="#ff0000" stroke-width="1.05"/>
<rect x="190.78" y="342.02" width="4.50" height="91.28" fill="#b3b3ff" stroke="#0000ff" stroke-width="1.05"/>
<rect x="195.28" y="328.00" width="4.50" height="105.30" fill="#ffb3b3" stroke="#ff0000" stroke-width="1.05"/>
<rect x="206.20" y="424.99" width="4.50" height="8.31" fill="#b3b3ff" stroke="#0000ff" stroke-width="1.05"/>
<rect x="210.70" y="415.53" width="4.50" height="17.77" fill="#ffb3b3" stroke="#ff0000" stroke-width="1.05"/>
<rect x="221.62" y="408.52" width="4.50" height="24.78" fill="#b3b3ff" stroke="#0000ff" stroke-width="1.05"/>
<rect x="226.12" y="391.74" width="4.50" height="41.56" fill="#ffb3b3" stroke="#ff0000" stroke-width="1.05"/>
<rect x="237.04" y="276.98" width="4.50" height="156.32" fill="#b3b3ff" stroke="#0000ff" stroke-width="1.05"/>
<rect x="241.54" y="335.50" width="4.50" height="97.80" fill="#ffb3b3" stroke="#ff0000" stroke-width="1.05"/>
<line x1="56.50" y1="359.95" x2="257.00" y2="359.95" stroke="#111" stroke-opacity="0.85" stroke-width="1.4"/>
<line x1="56.50" y1="408.85" x2="257.00" y2="408.85" stroke="#111" stroke-opacity="0.85" stroke-width="1.4"/>
<rect x="56.50" y="270.30" width="200.50" height="163.40" fill="none" stroke="#404040" stroke-width="1.15"/>
<text x="51.30" y="405.90" font-size="14.2" text-anchor="end" >20</text>
<text x="51.30" y="373.30" font-size="14.2" text-anchor="end" >40</text>
<text x="51.30" y="340.70" font-size="14.2" text-anchor="end" >60</text>
<text x="51.30" y="308.10" font-size="14.2" text-anchor="end" >80</text>
<text x="51.30" y="275.50" font-size="14.2" text-anchor="end" >100</text>
<text x="95.05" y="455.00" font-size="14.5" text-anchor="middle" >4k</text>
<text x="125.89" y="455.00" font-size="14.5" text-anchor="middle" >8k</text>
<text x="156.73" y="455.00" font-size="14.5" text-anchor="middle" >12k</text>
<text x="187.57" y="455.00" font-size="14.5" text-anchor="middle" >16k</text>
<text x="218.41" y="455.00" font-size="14.5" text-anchor="middle" >20k</text>
<text x="249.25" y="455.00" font-size="14.5" text-anchor="middle" >24k</text>
<text x="91.00" y="476.10" font-size="15" text-anchor="start" textLength="131.20" lengthAdjust="spacingAndGlyphs" >Transmitted messages</text>
<text x="20.50" y="390.00" font-size="14.5" text-anchor="start" textLength="76.20" lengthAdjust="spacingAndGlyphs" transform="rotate(-90 20.50 390.00)" >% of silences</text>
<rect x="187.5" y="275.3" width="47.20" height="33.50" fill="#fff" stroke="#444" stroke-width="1.15"/>
<rect x="192.7" y="278.8" width="3.8" height="11.5" fill="#b3b3ff" stroke="#0000ff" stroke-width="1.05"/>
<rect x="201.8" y="282.1" width="4.1" height="8.2" fill="#b3b3ff" stroke="#0000ff" stroke-width="1.05"/>
<rect x="192.7" y="293.0" width="3.8" height="11.5" fill="#ffb3b3" stroke="#ff0000" stroke-width="1.05"/>
<rect x="201.8" y="295.90000000000003" width="4.1" height="8.6" fill="#ffb3b3" stroke="#ff0000" stroke-width="1.05"/>
<text x="208.00" y="289.90" font-size="7.4" text-anchor="start" textLength="20.40" lengthAdjust="spacingAndGlyphs" >NACK</text>
<text x="211.10" y="303.70" font-size="7.4" text-anchor="start" textLength="14.90" lengthAdjust="spacingAndGlyphs" >ACK</text>
<rect x="332.50" y="276.50" width="66.83" height="163.00" fill="#ffe6e6"/>
<rect x="399.33" y="276.50" width="50.12" height="163.00" fill="#e6e6ff"/>
<rect x="449.46" y="276.50" width="66.83" height="163.00" fill="#e6ffe6"/>
<rect x="516.29" y="276.50" width="16.71" height="163.00" fill="#ffffe6"/>
<line x1="365.92" y1="276.50" x2="365.92" y2="439.50" stroke="#b4b4b4" stroke-width="1" stroke-dasharray="4.6 4.4" stroke-dashoffset="4.2"/>
<line x1="399.33" y1="276.50" x2="399.33" y2="439.50" stroke="#b4b4b4" stroke-width="1" stroke-dasharray="4.6 4.4" stroke-dashoffset="4.2"/>
<line x1="432.75" y1="276.50" x2="432.75" y2="439.50" stroke="#b4b4b4" stroke-width="1" stroke-dasharray="4.6 4.4" stroke-dashoffset="4.2"/>
<line x1="466.16" y1="276.50" x2="466.16" y2="439.50" stroke="#b4b4b4" stroke-width="1" stroke-dasharray="4.6 4.4" stroke-dashoffset="4.2"/>
<line x1="499.58" y1="276.50" x2="499.58" y2="439.50" stroke="#b4b4b4" stroke-width="1" stroke-dasharray="4.6 4.4" stroke-dashoffset="4.2"/>
<line x1="365.92" y1="276.50" x2="365.92" y2="282.50" stroke="#c6c6c6" stroke-width="1"/>
<line x1="365.92" y1="433.50" x2="365.92" y2="439.50" stroke="#c6c6c6" stroke-width="1"/>
<line x1="399.33" y1="276.50" x2="399.33" y2="282.50" stroke="#c6c6c6" stroke-width="1"/>
<line x1="399.33" y1="433.50" x2="399.33" y2="439.50" stroke="#c6c6c6" stroke-width="1"/>
<line x1="432.75" y1="276.50" x2="432.75" y2="282.50" stroke="#c6c6c6" stroke-width="1"/>
<line x1="432.75" y1="433.50" x2="432.75" y2="439.50" stroke="#c6c6c6" stroke-width="1"/>
<line x1="466.16" y1="276.50" x2="466.16" y2="282.50" stroke="#c6c6c6" stroke-width="1"/>
<line x1="466.16" y1="433.50" x2="466.16" y2="439.50" stroke="#c6c6c6" stroke-width="1"/>
<line x1="499.58" y1="276.50" x2="499.58" y2="282.50" stroke="#c6c6c6" stroke-width="1"/>
<line x1="499.58" y1="433.50" x2="499.58" y2="439.50" stroke="#c6c6c6" stroke-width="1"/>
<line x1="332.50" y1="406.86" x2="338.50" y2="406.86" stroke="#c6c6c6" stroke-width="1"/>
<line x1="527.00" y1="406.86" x2="533.00" y2="406.86" stroke="#c6c6c6" stroke-width="1"/>
<line x1="332.50" y1="374.22" x2="338.50" y2="374.22" stroke="#c6c6c6" stroke-width="1"/>
<line x1="527.00" y1="374.22" x2="533.00" y2="374.22" stroke="#c6c6c6" stroke-width="1"/>
<line x1="332.50" y1="341.58" x2="338.50" y2="341.58" stroke="#c6c6c6" stroke-width="1"/>
<line x1="527.00" y1="341.58" x2="533.00" y2="341.58" stroke="#c6c6c6" stroke-width="1"/>
<line x1="332.50" y1="308.94" x2="338.50" y2="308.94" stroke="#c6c6c6" stroke-width="1"/>
<line x1="527.00" y1="308.94" x2="533.00" y2="308.94" stroke="#c6c6c6" stroke-width="1"/>
<text x="369.92" y="390.50" font-size="14.5" text-anchor="middle" textLength="45.50" lengthAdjust="spacingAndGlyphs" transform="rotate(-90 369.92 390.50)" >MCS(5)</text>
<text x="428.39" y="390.50" font-size="14.5" text-anchor="middle" textLength="45.50" lengthAdjust="spacingAndGlyphs" transform="rotate(-90 428.39 390.50)" >MCS(4)</text>
<text x="486.87" y="390.50" font-size="14.5" text-anchor="middle" textLength="45.50" lengthAdjust="spacingAndGlyphs" transform="rotate(-90 486.87 390.50)" >MCS(3)</text>
<text x="528.64" y="390.50" font-size="14.5" text-anchor="middle" textLength="45.50" lengthAdjust="spacingAndGlyphs" transform="rotate(-90 528.64 390.50)" >MCS(2)</text>
<rect x="332.50" y="276.50" width="200.50" height="163.00" fill="none" stroke="#404040" stroke-width="1.15"/>
<g fill="#1f561f"><circle cx="333.3" cy="289.9" r="3.55"/><circle cx="334.2" cy="289.5" r="3.55"/><circle cx="335.1" cy="290.0" r="3.55"/><circle cx="336.1" cy="289.7" r="3.55"/><circle cx="337.0" cy="289.5" r="3.55"/><circle cx="337.9" cy="289.4" r="3.55"/><circle cx="338.8" cy="289.9" r="3.55"/><circle cx="339.7" cy="289.6" r="3.55"/><circle cx="340.6" cy="289.5" r="3.55"/><circle cx="341.5" cy="289.8" r="3.55"/><circle cx="342.4" cy="289.3" r="3.55"/><circle cx="343.3" cy="290.0" r="3.55"/><circle cx="344.2" cy="290.0" r="3.55"/><circle cx="345.1" cy="289.8" r="3.55"/><circle cx="346.0" cy="289.4" r="3.55"/><circle cx="346.9" cy="289.9" r="3.55"/><circle cx="347.8" cy="289.4" r="3.55"/><circle cx="348.7" cy="289.5" r="3.55"/><circle cx="349.6" cy="290.0" r="3.55"/><circle cx="350.5" cy="290.0" r="3.55"/><circle cx="351.4" cy="289.9" r="3.55"/><circle cx="352.3" cy="289.8" r="3.55"/><circle cx="353.2" cy="289.6" r="3.55"/><circle cx="354.2" cy="289.8" r="3.55"/><circle cx="355.1" cy="290.0" r="3.55"/><circle cx="356.0" cy="289.5" r="3.55"/><circle cx="356.9" cy="289.7" r="3.55"/><circle cx="357.8" cy="290.0" r="3.55"/><circle cx="358.7" cy="289.9" r="3.55"/><circle cx="359.6" cy="289.7" r="3.55"/><circle cx="360.5" cy="289.4" r="3.55"/><circle cx="361.4" cy="289.9" r="3.55"/><circle cx="362.3" cy="289.7" r="3.55"/><circle cx="363.2" cy="290.1" r="3.55"/><circle cx="364.1" cy="289.6" r="3.55"/><circle cx="365.0" cy="290.0" r="3.55"/><circle cx="365.9" cy="289.5" r="3.55"/><circle cx="366.8" cy="290.0" r="3.55"/><circle cx="367.7" cy="289.3" r="3.55"/><circle cx="368.6" cy="290.1" r="3.55"/><circle cx="369.5" cy="289.6" r="3.55"/><circle cx="370.4" cy="289.3" r="3.55"/><circle cx="371.3" cy="289.6" r="3.55"/><circle cx="372.3" cy="289.4" r="3.55"/><circle cx="373.2" cy="289.5" r="3.55"/><circle cx="374.1" cy="289.4" r="3.55"/><circle cx="375.0" cy="289.4" r="3.55"/><circle cx="375.9" cy="289.4" r="3.55"/><circle cx="376.8" cy="289.8" r="3.55"/><circle cx="377.7" cy="289.3" r="3.55"/><circle cx="378.6" cy="289.5" r="3.55"/><circle cx="379.5" cy="289.6" r="3.55"/><circle cx="380.4" cy="289.9" r="3.55"/><circle cx="381.3" cy="289.3" r="3.55"/><circle cx="382.2" cy="289.6" r="3.55"/><circle cx="383.1" cy="289.5" r="3.55"/><circle cx="384.0" cy="289.8" r="3.55"/><circle cx="384.9" cy="289.4" r="3.55"/><circle cx="385.8" cy="289.9" r="3.55"/><circle cx="386.7" cy="289.7" r="3.55"/><circle cx="387.6" cy="289.7" r="3.55"/><circle cx="388.5" cy="289.7" r="3.55"/><circle cx="389.4" cy="289.3" r="3.55"/><circle cx="390.4" cy="289.5" r="3.55"/><circle cx="391.3" cy="289.7" r="3.55"/><circle cx="392.2" cy="289.7" r="3.55"/><circle cx="393.1" cy="289.9" r="3.55"/><circle cx="394.0" cy="289.5" r="3.55"/><circle cx="394.9" cy="290.0" r="3.55"/><circle cx="395.8" cy="289.4" r="3.55"/><circle cx="396.7" cy="289.5" r="3.55"/><circle cx="397.6" cy="289.9" r="3.55"/><circle cx="398.5" cy="289.5" r="3.55"/></g>
<g fill="#2b6f2b"><circle cx="333.3" cy="289.9" r="2.8"/><circle cx="334.2" cy="289.5" r="2.8"/><circle cx="335.1" cy="290.0" r="2.8"/><circle cx="336.1" cy="289.7" r="2.8"/><circle cx="337.0" cy="289.5" r="2.8"/><circle cx="337.9" cy="289.4" r="2.8"/><circle cx="338.8" cy="289.9" r="2.8"/><circle cx="339.7" cy="289.6" r="2.8"/><circle cx="340.6" cy="289.5" r="2.8"/><circle cx="341.5" cy="289.8" r="2.8"/><circle cx="342.4" cy="289.3" r="2.8"/><circle cx="343.3" cy="290.0" r="2.8"/><circle cx="344.2" cy="290.0" r="2.8"/><circle cx="345.1" cy="289.8" r="2.8"/><circle cx="346.0" cy="289.4" r="2.8"/><circle cx="346.9" cy="289.9" r="2.8"/><circle cx="347.8" cy="289.4" r="2.8"/><circle cx="348.7" cy="289.5" r="2.8"/><circle cx="349.6" cy="290.0" r="2.8"/><circle cx="350.5" cy="290.0" r="2.8"/><circle cx="351.4" cy="289.9" r="2.8"/><circle cx="352.3" cy="289.8" r="2.8"/><circle cx="353.2" cy="289.6" r="2.8"/><circle cx="354.2" cy="289.8" r="2.8"/><circle cx="355.1" cy="290.0" r="2.8"/><circle cx="356.0" cy="289.5" r="2.8"/><circle cx="356.9" cy="289.7" r="2.8"/><circle cx="357.8" cy="290.0" r="2.8"/><circle cx="358.7" cy="289.9" r="2.8"/><circle cx="359.6" cy="289.7" r="2.8"/><circle cx="360.5" cy="289.4" r="2.8"/><circle cx="361.4" cy="289.9" r="2.8"/><circle cx="362.3" cy="289.7" r="2.8"/><circle cx="363.2" cy="290.1" r="2.8"/><circle cx="364.1" cy="289.6" r="2.8"/><circle cx="365.0" cy="290.0" r="2.8"/><circle cx="365.9" cy="289.5" r="2.8"/><circle cx="366.8" cy="290.0" r="2.8"/><circle cx="367.7" cy="289.3" r="2.8"/><circle cx="368.6" cy="290.1" r="2.8"/><circle cx="369.5" cy="289.6" r="2.8"/><circle cx="370.4" cy="289.3" r="2.8"/><circle cx="371.3" cy="289.6" r="2.8"/><circle cx="372.3" cy="289.4" r="2.8"/><circle cx="373.2" cy="289.5" r="2.8"/><circle cx="374.1" cy="289.4" r="2.8"/><circle cx="375.0" cy="289.4" r="2.8"/><circle cx="375.9" cy="289.4" r="2.8"/><circle cx="376.8" cy="289.8" r="2.8"/><circle cx="377.7" cy="289.3" r="2.8"/><circle cx="378.6" cy="289.5" r="2.8"/><circle cx="379.5" cy="289.6" r="2.8"/><circle cx="380.4" cy="289.9" r="2.8"/><circle cx="381.3" cy="289.3" r="2.8"/><circle cx="382.2" cy="289.6" r="2.8"/><circle cx="383.1" cy="289.5" r="2.8"/><circle cx="384.0" cy="289.8" r="2.8"/><circle cx="384.9" cy="289.4" r="2.8"/><circle cx="385.8" cy="289.9" r="2.8"/><circle cx="386.7" cy="289.7" r="2.8"/><circle cx="387.6" cy="289.7" r="2.8"/><circle cx="388.5" cy="289.7" r="2.8"/><circle cx="389.4" cy="289.3" r="2.8"/><circle cx="390.4" cy="289.5" r="2.8"/><circle cx="391.3" cy="289.7" r="2.8"/><circle cx="392.2" cy="289.7" r="2.8"/><circle cx="393.1" cy="289.9" r="2.8"/><circle cx="394.0" cy="289.5" r="2.8"/><circle cx="394.9" cy="290.0" r="2.8"/><circle cx="395.8" cy="289.4" r="2.8"/><circle cx="396.7" cy="289.5" r="2.8"/><circle cx="397.6" cy="289.9" r="2.8"/><circle cx="398.5" cy="289.5" r="2.8"/></g>
<g fill="#1f561f"><circle cx="400.2" cy="318.6" r="3.55"/><circle cx="401.1" cy="318.7" r="3.55"/><circle cx="402.0" cy="318.4" r="3.55"/><circle cx="402.9" cy="318.3" r="3.55"/><circle cx="403.8" cy="318.9" r="3.55"/><circle cx="404.7" cy="318.8" r="3.55"/><circle cx="405.7" cy="318.6" r="3.55"/><circle cx="406.6" cy="318.8" r="3.55"/><circle cx="407.5" cy="318.5" r="3.55"/><circle cx="408.4" cy="318.2" r="3.55"/><circle cx="409.3" cy="318.8" r="3.55"/><circle cx="410.2" cy="318.3" r="3.55"/><circle cx="411.1" cy="318.8" r="3.55"/><circle cx="412.1" cy="318.2" r="3.55"/><circle cx="413.0" cy="318.4" r="3.55"/><circle cx="413.9" cy="318.5" r="3.55"/><circle cx="414.8" cy="318.8" r="3.55"/><circle cx="415.7" cy="318.2" r="3.55"/><circle cx="416.6" cy="318.8" r="3.55"/><circle cx="417.5" cy="318.9" r="3.55"/><circle cx="418.5" cy="318.6" r="3.55"/><circle cx="419.4" cy="318.5" r="3.55"/><circle cx="420.3" cy="318.8" r="3.55"/><circle cx="421.2" cy="318.8" r="3.55"/><circle cx="422.1" cy="319.0" r="3.55"/><circle cx="423.0" cy="318.4" r="3.55"/><circle cx="423.9" cy="318.5" r="3.55"/><circle cx="424.9" cy="318.3" r="3.55"/><circle cx="425.8" cy="318.2" r="3.55"/><circle cx="426.7" cy="318.7" r="3.55"/><circle cx="427.6" cy="318.6" r="3.55"/><circle cx="428.5" cy="318.6" r="3.55"/><circle cx="429.4" cy="318.9" r="3.55"/><circle cx="430.3" cy="318.5" r="3.55"/><circle cx="431.3" cy="318.3" r="3.55"/><circle cx="432.2" cy="318.4" r="3.55"/><circle cx="433.1" cy="318.6" r="3.55"/><circle cx="434.0" cy="318.4" r="3.55"/><circle cx="434.9" cy="318.4" r="3.55"/><circle cx="435.8" cy="318.7" r="3.55"/><circle cx="436.7" cy="318.4" r="3.55"/><circle cx="437.7" cy="318.5" r="3.55"/><circle cx="438.6" cy="318.3" r="3.55"/><circle cx="439.5" cy="318.6" r="3.55"/><circle cx="440.4" cy="318.5" r="3.55"/><circle cx="441.3" cy="318.4" r="3.55"/><circle cx="442.2" cy="318.3" r="3.55"/><circle cx="443.1" cy="318.6" r="3.55"/><circle cx="444.0" cy="318.2" r="3.55"/><circle cx="445.0" cy="318.8" r="3.55"/><circle cx="445.9" cy="318.8" r="3.55"/><circle cx="446.8" cy="318.4" r="3.55"/><circle cx="447.7" cy="318.2" r="3.55"/><circle cx="448.6" cy="318.8" r="3.55"/></g>
<g fill="#2b6f2b"><circle cx="400.2" cy="318.6" r="2.8"/><circle cx="401.1" cy="318.7" r="2.8"/><circle cx="402.0" cy="318.4" r="2.8"/><circle cx="402.9" cy="318.3" r="2.8"/><circle cx="403.8" cy="318.9" r="2.8"/><circle cx="404.7" cy="318.8" r="2.8"/><circle cx="405.7" cy="318.6" r="2.8"/><circle cx="406.6" cy="318.8" r="2.8"/><circle cx="407.5" cy="318.5" r="2.8"/><circle cx="408.4" cy="318.2" r="2.8"/><circle cx="409.3" cy="318.8" r="2.8"/><circle cx="410.2" cy="318.3" r="2.8"/><circle cx="411.1" cy="318.8" r="2.8"/><circle cx="412.1" cy="318.2" r="2.8"/><circle cx="413.0" cy="318.4" r="2.8"/><circle cx="413.9" cy="318.5" r="2.8"/><circle cx="414.8" cy="318.8" r="2.8"/><circle cx="415.7" cy="318.2" r="2.8"/><circle cx="416.6" cy="318.8" r="2.8"/><circle cx="417.5" cy="318.9" r="2.8"/><circle cx="418.5" cy="318.6" r="2.8"/><circle cx="419.4" cy="318.5" r="2.8"/><circle cx="420.3" cy="318.8" r="2.8"/><circle cx="421.2" cy="318.8" r="2.8"/><circle cx="422.1" cy="319.0" r="2.8"/><circle cx="423.0" cy="318.4" r="2.8"/><circle cx="423.9" cy="318.5" r="2.8"/><circle cx="424.9" cy="318.3" r="2.8"/><circle cx="425.8" cy="318.2" r="2.8"/><circle cx="426.7" cy="318.7" r="2.8"/><circle cx="427.6" cy="318.6" r="2.8"/><circle cx="428.5" cy="318.6" r="2.8"/><circle cx="429.4" cy="318.9" r="2.8"/><circle cx="430.3" cy="318.5" r="2.8"/><circle cx="431.3" cy="318.3" r="2.8"/><circle cx="432.2" cy="318.4" r="2.8"/><circle cx="433.1" cy="318.6" r="2.8"/><circle cx="434.0" cy="318.4" r="2.8"/><circle cx="434.9" cy="318.4" r="2.8"/><circle cx="435.8" cy="318.7" r="2.8"/><circle cx="436.7" cy="318.4" r="2.8"/><circle cx="437.7" cy="318.5" r="2.8"/><circle cx="438.6" cy="318.3" r="2.8"/><circle cx="439.5" cy="318.6" r="2.8"/><circle cx="440.4" cy="318.5" r="2.8"/><circle cx="441.3" cy="318.4" r="2.8"/><circle cx="442.2" cy="318.3" r="2.8"/><circle cx="443.1" cy="318.6" r="2.8"/><circle cx="444.0" cy="318.2" r="2.8"/><circle cx="445.0" cy="318.8" r="2.8"/><circle cx="445.9" cy="318.8" r="2.8"/><circle cx="446.8" cy="318.4" r="2.8"/><circle cx="447.7" cy="318.2" r="2.8"/><circle cx="448.6" cy="318.8" r="2.8"/></g>
<g fill="#1f561f"><circle cx="450.3" cy="344.9" r="3.55"/><circle cx="451.2" cy="345.4" r="3.55"/><circle cx="452.1" cy="344.8" r="3.55"/><circle cx="453.0" cy="344.8" r="3.55"/><circle cx="453.9" cy="345.2" r="3.55"/><circle cx="454.8" cy="345.4" r="3.55"/><circle cx="455.7" cy="345.4" r="3.55"/><circle cx="456.6" cy="345.3" r="3.55"/><circle cx="457.5" cy="344.8" r="3.55"/><circle cx="458.4" cy="345.2" r="3.55"/><circle cx="459.3" cy="345.5" r="3.55"/><circle cx="460.2" cy="345.3" r="3.55"/><circle cx="461.2" cy="345.3" r="3.55"/><circle cx="462.1" cy="345.1" r="3.55"/><circle cx="463.0" cy="345.1" r="3.55"/><circle cx="463.9" cy="345.1" r="3.55"/><circle cx="464.8" cy="345.2" r="3.55"/><circle cx="465.7" cy="345.5" r="3.55"/><circle cx="466.6" cy="345.4" r="3.55"/><circle cx="467.5" cy="345.1" r="3.55"/><circle cx="468.4" cy="345.5" r="3.55"/><circle cx="469.3" cy="345.3" r="3.55"/><circle cx="470.2" cy="345.3" r="3.55"/><circle cx="471.1" cy="345.2" r="3.55"/><circle cx="472.0" cy="345.2" r="3.55"/><circle cx="472.9" cy="344.8" r="3.55"/><circle cx="473.8" cy="344.8" r="3.55"/><circle cx="474.7" cy="345.2" r="3.55"/><circle cx="475.6" cy="344.9" r="3.55"/><circle cx="476.5" cy="345.4" r="3.55"/><circle cx="477.4" cy="345.0" r="3.55"/><circle cx="478.3" cy="344.9" r="3.55"/><circle cx="479.3" cy="345.3" r="3.55"/><circle cx="480.2" cy="344.9" r="3.55"/><circle cx="481.1" cy="345.3" r="3.55"/><circle cx="482.0" cy="345.0" r="3.55"/><circle cx="482.9" cy="344.8" r="3.55"/><circle cx="483.8" cy="344.8" r="3.55"/><circle cx="484.7" cy="344.9" r="3.55"/><circle cx="485.6" cy="345.4" r="3.55"/><circle cx="486.5" cy="345.1" r="3.55"/><circle cx="487.4" cy="345.1" r="3.55"/><circle cx="488.3" cy="344.9" r="3.55"/><circle cx="489.2" cy="345.0" r="3.55"/><circle cx="490.1" cy="345.3" r="3.55"/><circle cx="491.0" cy="345.0" r="3.55"/><circle cx="491.9" cy="344.8" r="3.55"/><circle cx="492.8" cy="345.0" r="3.55"/><circle cx="493.7" cy="344.9" r="3.55"/><circle cx="494.6" cy="345.2" r="3.55"/><circle cx="495.5" cy="345.5" r="3.55"/><circle cx="496.4" cy="345.1" r="3.55"/><circle cx="497.4" cy="345.2" r="3.55"/><circle cx="498.3" cy="345.4" r="3.55"/><circle cx="499.2" cy="345.5" r="3.55"/><circle cx="500.1" cy="345.5" r="3.55"/><circle cx="501.0" cy="345.2" r="3.55"/><circle cx="501.9" cy="345.6" r="3.55"/><circle cx="502.8" cy="345.4" r="3.55"/><circle cx="503.7" cy="345.2" r="3.55"/><circle cx="504.6" cy="345.2" r="3.55"/><circle cx="505.5" cy="345.1" r="3.55"/><circle cx="506.4" cy="345.5" r="3.55"/><circle cx="507.3" cy="344.8" r="3.55"/><circle cx="508.2" cy="345.3" r="3.55"/><circle cx="509.1" cy="344.8" r="3.55"/><circle cx="510.0" cy="345.0" r="3.55"/><circle cx="510.9" cy="345.1" r="3.55"/><circle cx="511.8" cy="345.3" r="3.55"/><circle cx="512.7" cy="345.1" r="3.55"/><circle cx="513.6" cy="345.1" r="3.55"/><circle cx="514.5" cy="345.3" r="3.55"/><circle cx="515.5" cy="345.4" r="3.55"/></g>
<g fill="#2b6f2b"><circle cx="450.3" cy="344.9" r="2.8"/><circle cx="451.2" cy="345.4" r="2.8"/><circle cx="452.1" cy="344.8" r="2.8"/><circle cx="453.0" cy="344.8" r="2.8"/><circle cx="453.9" cy="345.2" r="2.8"/><circle cx="454.8" cy="345.4" r="2.8"/><circle cx="455.7" cy="345.4" r="2.8"/><circle cx="456.6" cy="345.3" r="2.8"/><circle cx="457.5" cy="344.8" r="2.8"/><circle cx="458.4" cy="345.2" r="2.8"/><circle cx="459.3" cy="345.5" r="2.8"/><circle cx="460.2" cy="345.3" r="2.8"/><circle cx="461.2" cy="345.3" r="2.8"/><circle cx="462.1" cy="345.1" r="2.8"/><circle cx="463.0" cy="345.1" r="2.8"/><circle cx="463.9" cy="345.1" r="2.8"/><circle cx="464.8" cy="345.2" r="2.8"/><circle cx="465.7" cy="345.5" r="2.8"/><circle cx="466.6" cy="345.4" r="2.8"/><circle cx="467.5" cy="345.1" r="2.8"/><circle cx="468.4" cy="345.5" r="2.8"/><circle cx="469.3" cy="345.3" r="2.8"/><circle cx="470.2" cy="345.3" r="2.8"/><circle cx="471.1" cy="345.2" r="2.8"/><circle cx="472.0" cy="345.2" r="2.8"/><circle cx="472.9" cy="344.8" r="2.8"/><circle cx="473.8" cy="344.8" r="2.8"/><circle cx="474.7" cy="345.2" r="2.8"/><circle cx="475.6" cy="344.9" r="2.8"/><circle cx="476.5" cy="345.4" r="2.8"/><circle cx="477.4" cy="345.0" r="2.8"/><circle cx="478.3" cy="344.9" r="2.8"/><circle cx="479.3" cy="345.3" r="2.8"/><circle cx="480.2" cy="344.9" r="2.8"/><circle cx="481.1" cy="345.3" r="2.8"/><circle cx="482.0" cy="345.0" r="2.8"/><circle cx="482.9" cy="344.8" r="2.8"/><circle cx="483.8" cy="344.8" r="2.8"/><circle cx="484.7" cy="344.9" r="2.8"/><circle cx="485.6" cy="345.4" r="2.8"/><circle cx="486.5" cy="345.1" r="2.8"/><circle cx="487.4" cy="345.1" r="2.8"/><circle cx="488.3" cy="344.9" r="2.8"/><circle cx="489.2" cy="345.0" r="2.8"/><circle cx="490.1" cy="345.3" r="2.8"/><circle cx="491.0" cy="345.0" r="2.8"/><circle cx="491.9" cy="344.8" r="2.8"/><circle cx="492.8" cy="345.0" r="2.8"/><circle cx="493.7" cy="344.9" r="2.8"/><circle cx="494.6" cy="345.2" r="2.8"/><circle cx="495.5" cy="345.5" r="2.8"/><circle cx="496.4" cy="345.1" r="2.8"/><circle cx="497.4" cy="345.2" r="2.8"/><circle cx="498.3" cy="345.4" r="2.8"/><circle cx="499.2" cy="345.5" r="2.8"/><circle cx="500.1" cy="345.5" r="2.8"/><circle cx="501.0" cy="345.2" r="2.8"/><circle cx="501.9" cy="345.6" r="2.8"/><circle cx="502.8" cy="345.4" r="2.8"/><circle cx="503.7" cy="345.2" r="2.8"/><circle cx="504.6" cy="345.2" r="2.8"/><circle cx="505.5" cy="345.1" r="2.8"/><circle cx="506.4" cy="345.5" r="2.8"/><circle cx="507.3" cy="344.8" r="2.8"/><circle cx="508.2" cy="345.3" r="2.8"/><circle cx="509.1" cy="344.8" r="2.8"/><circle cx="510.0" cy="345.0" r="2.8"/><circle cx="510.9" cy="345.1" r="2.8"/><circle cx="511.8" cy="345.3" r="2.8"/><circle cx="512.7" cy="345.1" r="2.8"/><circle cx="513.6" cy="345.1" r="2.8"/><circle cx="514.5" cy="345.3" r="2.8"/><circle cx="515.5" cy="345.4" r="2.8"/></g>
<g fill="#1f561f"><circle cx="517.1" cy="429.0" r="3.55"/><circle cx="518.1" cy="429.5" r="3.55"/><circle cx="519.0" cy="429.0" r="3.55"/><circle cx="519.9" cy="429.4" r="3.55"/><circle cx="520.9" cy="429.1" r="3.55"/><circle cx="521.8" cy="429.4" r="3.55"/><circle cx="522.8" cy="429.5" r="3.55"/><circle cx="523.7" cy="429.5" r="3.55"/><circle cx="524.6" cy="429.4" r="3.55"/><circle cx="525.6" cy="429.3" r="3.55"/><circle cx="526.5" cy="428.9" r="3.55"/><circle cx="527.5" cy="429.4" r="3.55"/><circle cx="528.4" cy="429.0" r="3.55"/><circle cx="529.3" cy="429.3" r="3.55"/><circle cx="530.3" cy="428.9" r="3.55"/><circle cx="531.2" cy="428.8" r="3.55"/><circle cx="532.2" cy="429.4" r="3.55"/></g>
<g fill="#2b6f2b"><circle cx="517.1" cy="429.0" r="2.8"/><circle cx="518.1" cy="429.5" r="2.8"/><circle cx="519.0" cy="429.0" r="2.8"/><circle cx="519.9" cy="429.4" r="2.8"/><circle cx="520.9" cy="429.1" r="2.8"/><circle cx="521.8" cy="429.4" r="2.8"/><circle cx="522.8" cy="429.5" r="2.8"/><circle cx="523.7" cy="429.5" r="2.8"/><circle cx="524.6" cy="429.4" r="2.8"/><circle cx="525.6" cy="429.3" r="2.8"/><circle cx="526.5" cy="428.9" r="2.8"/><circle cx="527.5" cy="429.4" r="2.8"/><circle cx="528.4" cy="429.0" r="2.8"/><circle cx="529.3" cy="429.3" r="2.8"/><circle cx="530.3" cy="428.9" r="2.8"/><circle cx="531.2" cy="428.8" r="2.8"/><circle cx="532.2" cy="429.4" r="2.8"/></g>
<text x="327.10" y="412.06" font-size="14.2" text-anchor="end" >20</text>
<text x="327.10" y="379.42" font-size="14.2" text-anchor="end" >40</text>
<text x="327.10" y="346.78" font-size="14.2" text-anchor="end" >60</text>
<text x="327.10" y="314.14" font-size="14.2" text-anchor="end" >80</text>
<text x="327.10" y="281.50" font-size="14.2" text-anchor="end" >100</text>
<text x="365.92" y="455.40" font-size="14.5" text-anchor="middle" >4k</text>
<text x="399.33" y="455.40" font-size="14.5" text-anchor="middle" >8k</text>
<text x="432.75" y="455.40" font-size="14.5" text-anchor="middle" >12k</text>
<text x="466.16" y="455.40" font-size="14.5" text-anchor="middle" >16k</text>
<text x="499.58" y="455.40" font-size="14.5" text-anchor="middle" >20k</text>
<text x="533.00" y="455.40" font-size="14.5" text-anchor="middle" >24k</text>
<text x="366.70" y="475.30" font-size="15" text-anchor="start" textLength="132.00" lengthAdjust="spacingAndGlyphs" >Transmitted messages</text>
<text x="293.00" y="451.60" font-size="14.5" text-anchor="start" textLength="188.00" lengthAdjust="spacingAndGlyphs" transform="rotate(-90 293.00 451.60)" >% of STAs receiving incorrectly</text>
<rect x="444.0" y="281.6" width="83.00" height="24.40" fill="#fff" stroke="#444" stroke-width="1.15"/>
<circle cx="451.8" cy="293.9" r="3.3" fill="#2b6f2b" stroke="#1d521d" stroke-width="0.8"/>
<text x="458.00" y="298.00" font-size="14.8" text-anchor="start" textLength="60.60" lengthAdjust="spacingAndGlyphs" >% of STAs</text>
<text x="4.6" y="252.2" font-size="13.7" textLength="268.6" lengthAdjust="spacingAndGlyphs">(<tspan font-weight="bold">a</tspan>) Percentage of silences on each frame 100 m.</text>
<text x="277.2" y="252.2" font-size="13.7" textLength="265.5" lengthAdjust="spacingAndGlyphs">(<tspan font-weight="bold">b</tspan>) Percentage of non-receiving STAs 100 m.</text>
<text x="4.6" y="508.0" font-size="13.7" textLength="268.6" lengthAdjust="spacingAndGlyphs">(<tspan font-weight="bold">c</tspan>) Percentage of silences on each frame 200 m.</text>
<text x="276.6" y="508.2" font-size="13.7" textLength="264.0" lengthAdjust="spacingAndGlyphs">(<tspan font-weight="bold">d</tspan>) Percentage of non-receiving STAs 200 m.</text>
</svg>
</body></html>
